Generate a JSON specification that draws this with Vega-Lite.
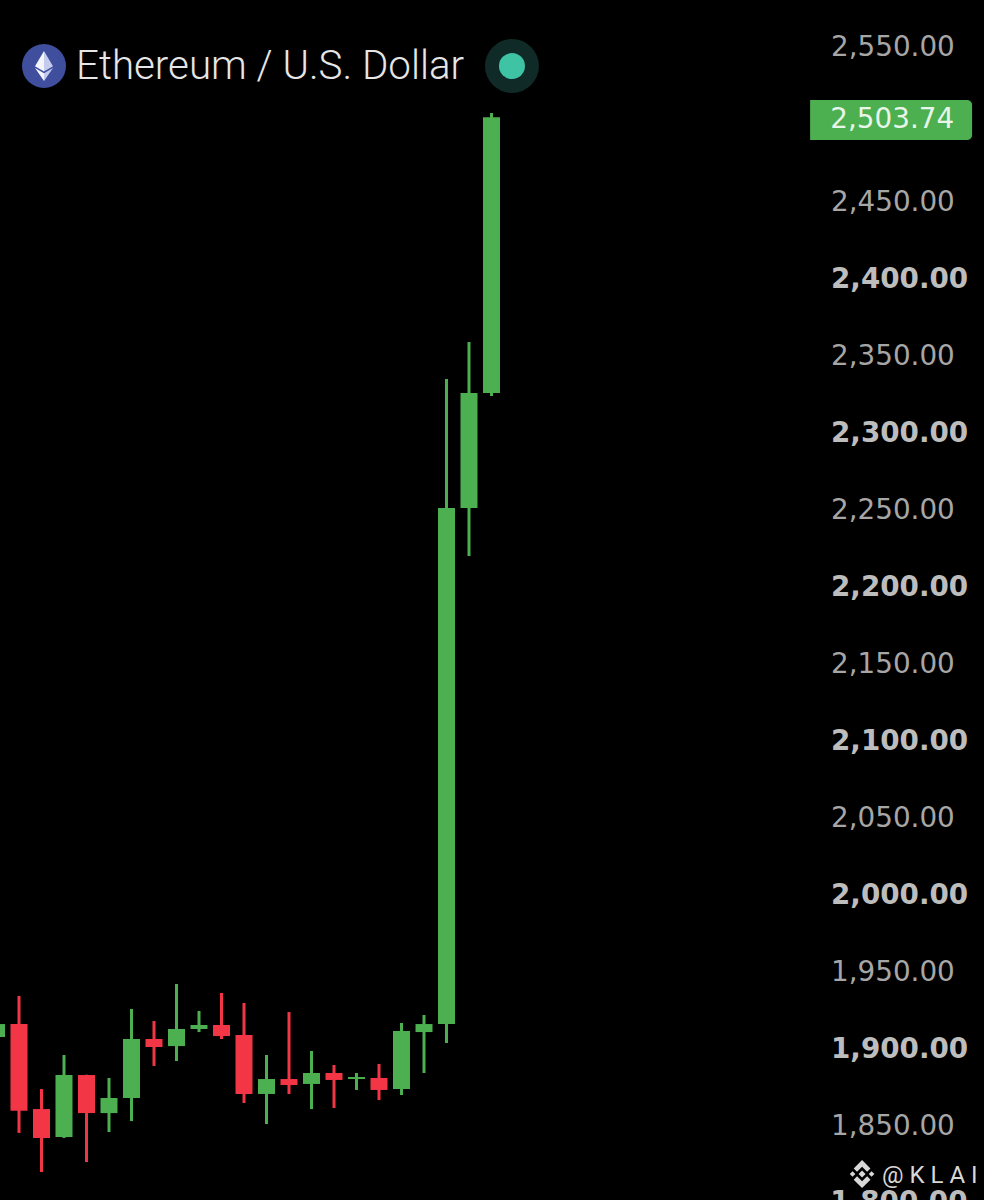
{"$schema":"https://vega.github.io/schema/vega-lite/v6.json","width":984,"height":1200,"padding":0,"autosize":{"type":"none"},"background":"#000000","view":{"stroke":null},
"title":{"text":"Ethereum / U.S. Dollar","anchor":"start","frame":"group","orient":"top","dx":76,"offset":-119,"baseline":"alphabetic","font":"Roboto","fontSize":40.3,"fontWeight":300,"color":"#e6e6e6"},
"datasets":{"candles":[
{"i":0,"open":1906.5,"high":1914.9,"low":1906.5,"close":1914.9,"dir":"up"},
{"i":1,"open":1914.9,"high":1933.1,"low":1844.2,"close":1858.6,"dir":"down"},
{"i":2,"open":1859.7,"high":1872.7,"low":1818.8,"close":1840.9,"dir":"down"},
{"i":3,"open":1841.6,"high":1894.8,"low":1840.9,"close":1881.8,"dir":"up"},
{"i":4,"open":1881.8,"high":1882,"low":1825.3,"close":1857.1,"dir":"down"},
{"i":5,"open":1857.1,"high":1879.9,"low":1844.8,"close":1866.9,"dir":"up"},
{"i":6,"open":1866.9,"high":1924.7,"low":1851.9,"close":1905.2,"dir":"up"},
{"i":7,"open":1905.2,"high":1916.9,"low":1887.7,"close":1900,"dir":"down"},
{"i":8,"open":1900.6,"high":1940.9,"low":1890.9,"close":1911.7,"dir":"up"},
{"i":9,"open":1911.7,"high":1923.4,"low":1909.7,"close":1914.3,"dir":"up"},
{"i":10,"open":1914.3,"high":1935.1,"low":1905.2,"close":1907.1,"dir":"down"},
{"i":11,"open":1907.8,"high":1928.6,"low":1863.6,"close":1869.5,"dir":"down"},
{"i":12,"open":1869.5,"high":1894.8,"low":1850,"close":1879.2,"dir":"up"},
{"i":13,"open":1879.2,"high":1922.7,"low":1869.5,"close":1875.3,"dir":"down"},
{"i":14,"open":1876,"high":1897.4,"low":1859.7,"close":1883.1,"dir":"up"},
{"i":15,"open":1883.1,"high":1888.3,"low":1860.4,"close":1878.6,"dir":"down"},
{"i":16,"open":1879.2,"high":1883.1,"low":1872.1,"close":1880.5,"dir":"up"},
{"i":17,"open":1879.9,"high":1889,"low":1865.6,"close":1872.1,"dir":"down"},
{"i":18,"open":1872.7,"high":1915.6,"low":1868.8,"close":1910.4,"dir":"up"},
{"i":19,"open":1909.7,"high":1920.8,"low":1883.1,"close":1914.9,"dir":"up"},
{"i":20,"open":1914.9,"high":2333.8,"low":1902.6,"close":2250,"dir":"up"},
{"i":21,"open":2250,"high":2357.8,"low":2218.8,"close":2324.7,"dir":"up"},
{"i":22,"open":2324.7,"high":2506.5,"low":2322.7,"close":2503.74,"dir":"up"}
]},
"layer":[
{"data":{"name":"candles"},"mark":{"type":"rule","strokeWidth":3,"clip":true},"encoding":{
"x":{"field":"i","type":"quantitative","scale":{"domain":[0.1556,43.889],"nice":false,"zero":false,"padding":0},"axis":null},
"y":{"field":"low","type":"quantitative","scale":{"domain":[1800.65,2579.87],"nice":false,"zero":false},"axis":{"orient":"right","offset":-153.5,"title":null,"grid":false,"domain":false,"ticks":false,"labelPadding":0,"labelAlign":"left","labelBaseline":"middle","labelBound":false,"labelFlush":false,"labelOverlap":false,"labelOffset":2,"format":",.2f","values":[1850,1900,1950,2000,2050,2100,2150,2200,2250,2300,2350,2400,2450,2550],"labelFont":"DejaVu Sans","labelFontSize":27.8,"labelColor":{"condition":{"test":"datum.value % 100 === 0","value":"#bdbdbd"},"value":"#a6a6a6"},"labelFontWeight":{"condition":{"test":"datum.value % 100 === 0","value":"bold"},"value":"normal"}}},
"y2":{"field":"high"},
"color":{"field":"dir","type":"nominal","scale":{"domain":["up","down"],"range":["#4caf50","#f23645"]},"legend":null}}},
{"data":{"name":"candles"},"mark":{"type":"bar","size":17,"clip":true},"encoding":{
"x":{"field":"i","type":"quantitative"},
"y":{"field":"open","type":"quantitative"},
"y2":{"field":"close"},
"color":{"field":"dir","type":"nominal","legend":null}}},
{"data":{"values":[{"i":36.16,"i2":43.36,"top":2514.9,"bottom":2489}]},"mark":{"type":"rect","fill":"#4caf50","cornerRadiusTopRight":5,"cornerRadiusBottomRight":5},"encoding":{
"x":{"field":"i","type":"quantitative"},"x2":{"field":"i2"},"y":{"field":"top","type":"quantitative"},"y2":{"field":"bottom"}}},
{"data":{"values":[{"i":37.06,"price":2503.74,"label":"2,503.74"}]},"mark":{"type":"text","align":"left","baseline":"middle","dy":3,"font":"DejaVu Sans","fontSize":27.8,"fill":"#e8f5e9"},"encoding":{
"x":{"field":"i","type":"quantitative"},"y":{"field":"price","type":"quantitative"},"text":{"field":"label"}}},
{"data":{"values":[{"i":37.06,"price":1800,"label":"1,800.00"}]},"mark":{"type":"text","align":"left","baseline":"middle","dy":2,"font":"DejaVu Sans","fontSize":27.8,"fontWeight":"bold","fill":"#bdbdbd"},"encoding":{
"x":{"field":"i","type":"quantitative"},"y":{"field":"price","type":"quantitative"},"text":{"field":"label"}}},
{"data":{"values":[{"i":2.111,"price":2537}]},"mark":{"type":"point","filled":true,"opacity":1,"size":1936,"color":"#3f4f9e","shape":"circle"},"encoding":{
"x":{"field":"i","type":"quantitative"},"y":{"field":"price","type":"quantitative"}}},
{"data":{"values":[{"i":2.111,"price":2537}]},"mark":{"type":"point","filled":true,"opacity":1,"size":900,"color":"#f4f5fc","shape":"M0,-1L-.6,.02L0,.36ZM-.6,.14L0,1L0,.48Z"},"encoding":{
"x":{"field":"i","type":"quantitative"},"y":{"field":"price","type":"quantitative"}}},
{"data":{"values":[{"i":2.111,"price":2537}]},"mark":{"type":"point","filled":true,"opacity":1,"size":900,"color":"#c5cbed","shape":"M0,-1L.6,.02L0,.36ZM.6,.14L0,1L0,.48Z"},"encoding":{
"x":{"field":"i","type":"quantitative"},"y":{"field":"price","type":"quantitative"}}},
{"data":{"values":[{"i":22.91,"price":2537}]},"mark":{"type":"point","filled":true,"opacity":1,"size":2916,"color":"#0f2a27","shape":"circle"},"encoding":{
"x":{"field":"i","type":"quantitative"},"y":{"field":"price","type":"quantitative"}}},
{"data":{"values":[{"i":22.91,"price":2537}]},"mark":{"type":"point","filled":true,"opacity":1,"size":676,"color":"#3fc3a5","shape":"circle"},"encoding":{
"x":{"field":"i","type":"quantitative"},"y":{"field":"price","type":"quantitative"}}},
{"data":{"values":[{"i":38.47,"price":1817.5}]},"mark":{"type":"point","filled":true,"opacity":1,"size":784,"color":"#d8d8d8","shape":"M0,-.25L.25,0L0,.25L-.25,0ZM-.68,-.2L-.48,0L-.68,.2L-.88,0ZM.68,-.2L.48,0L.68,.2L.88,0ZM0,-1L.6,-.4L.36,-.16L0,-.52L-.36,-.16L-.6,-.4ZM0,1L.6,.4L.36,.16L0,.52L-.36,.16L-.6,.4Z"},"encoding":{
"x":{"field":"i","type":"quantitative"},"y":{"field":"price","type":"quantitative"}}},
{"data":{"values":[{"i":39.36,"price":1811.7,"label":"@ K L A I"}]},"mark":{"type":"text","align":"left","baseline":"alphabetic","font":"Roboto","fontSize":24,"fill":"#d8d8d8"},"encoding":{
"x":{"field":"i","type":"quantitative"},"y":{"field":"price","type":"quantitative"},"text":{"field":"label"}}}
]}
